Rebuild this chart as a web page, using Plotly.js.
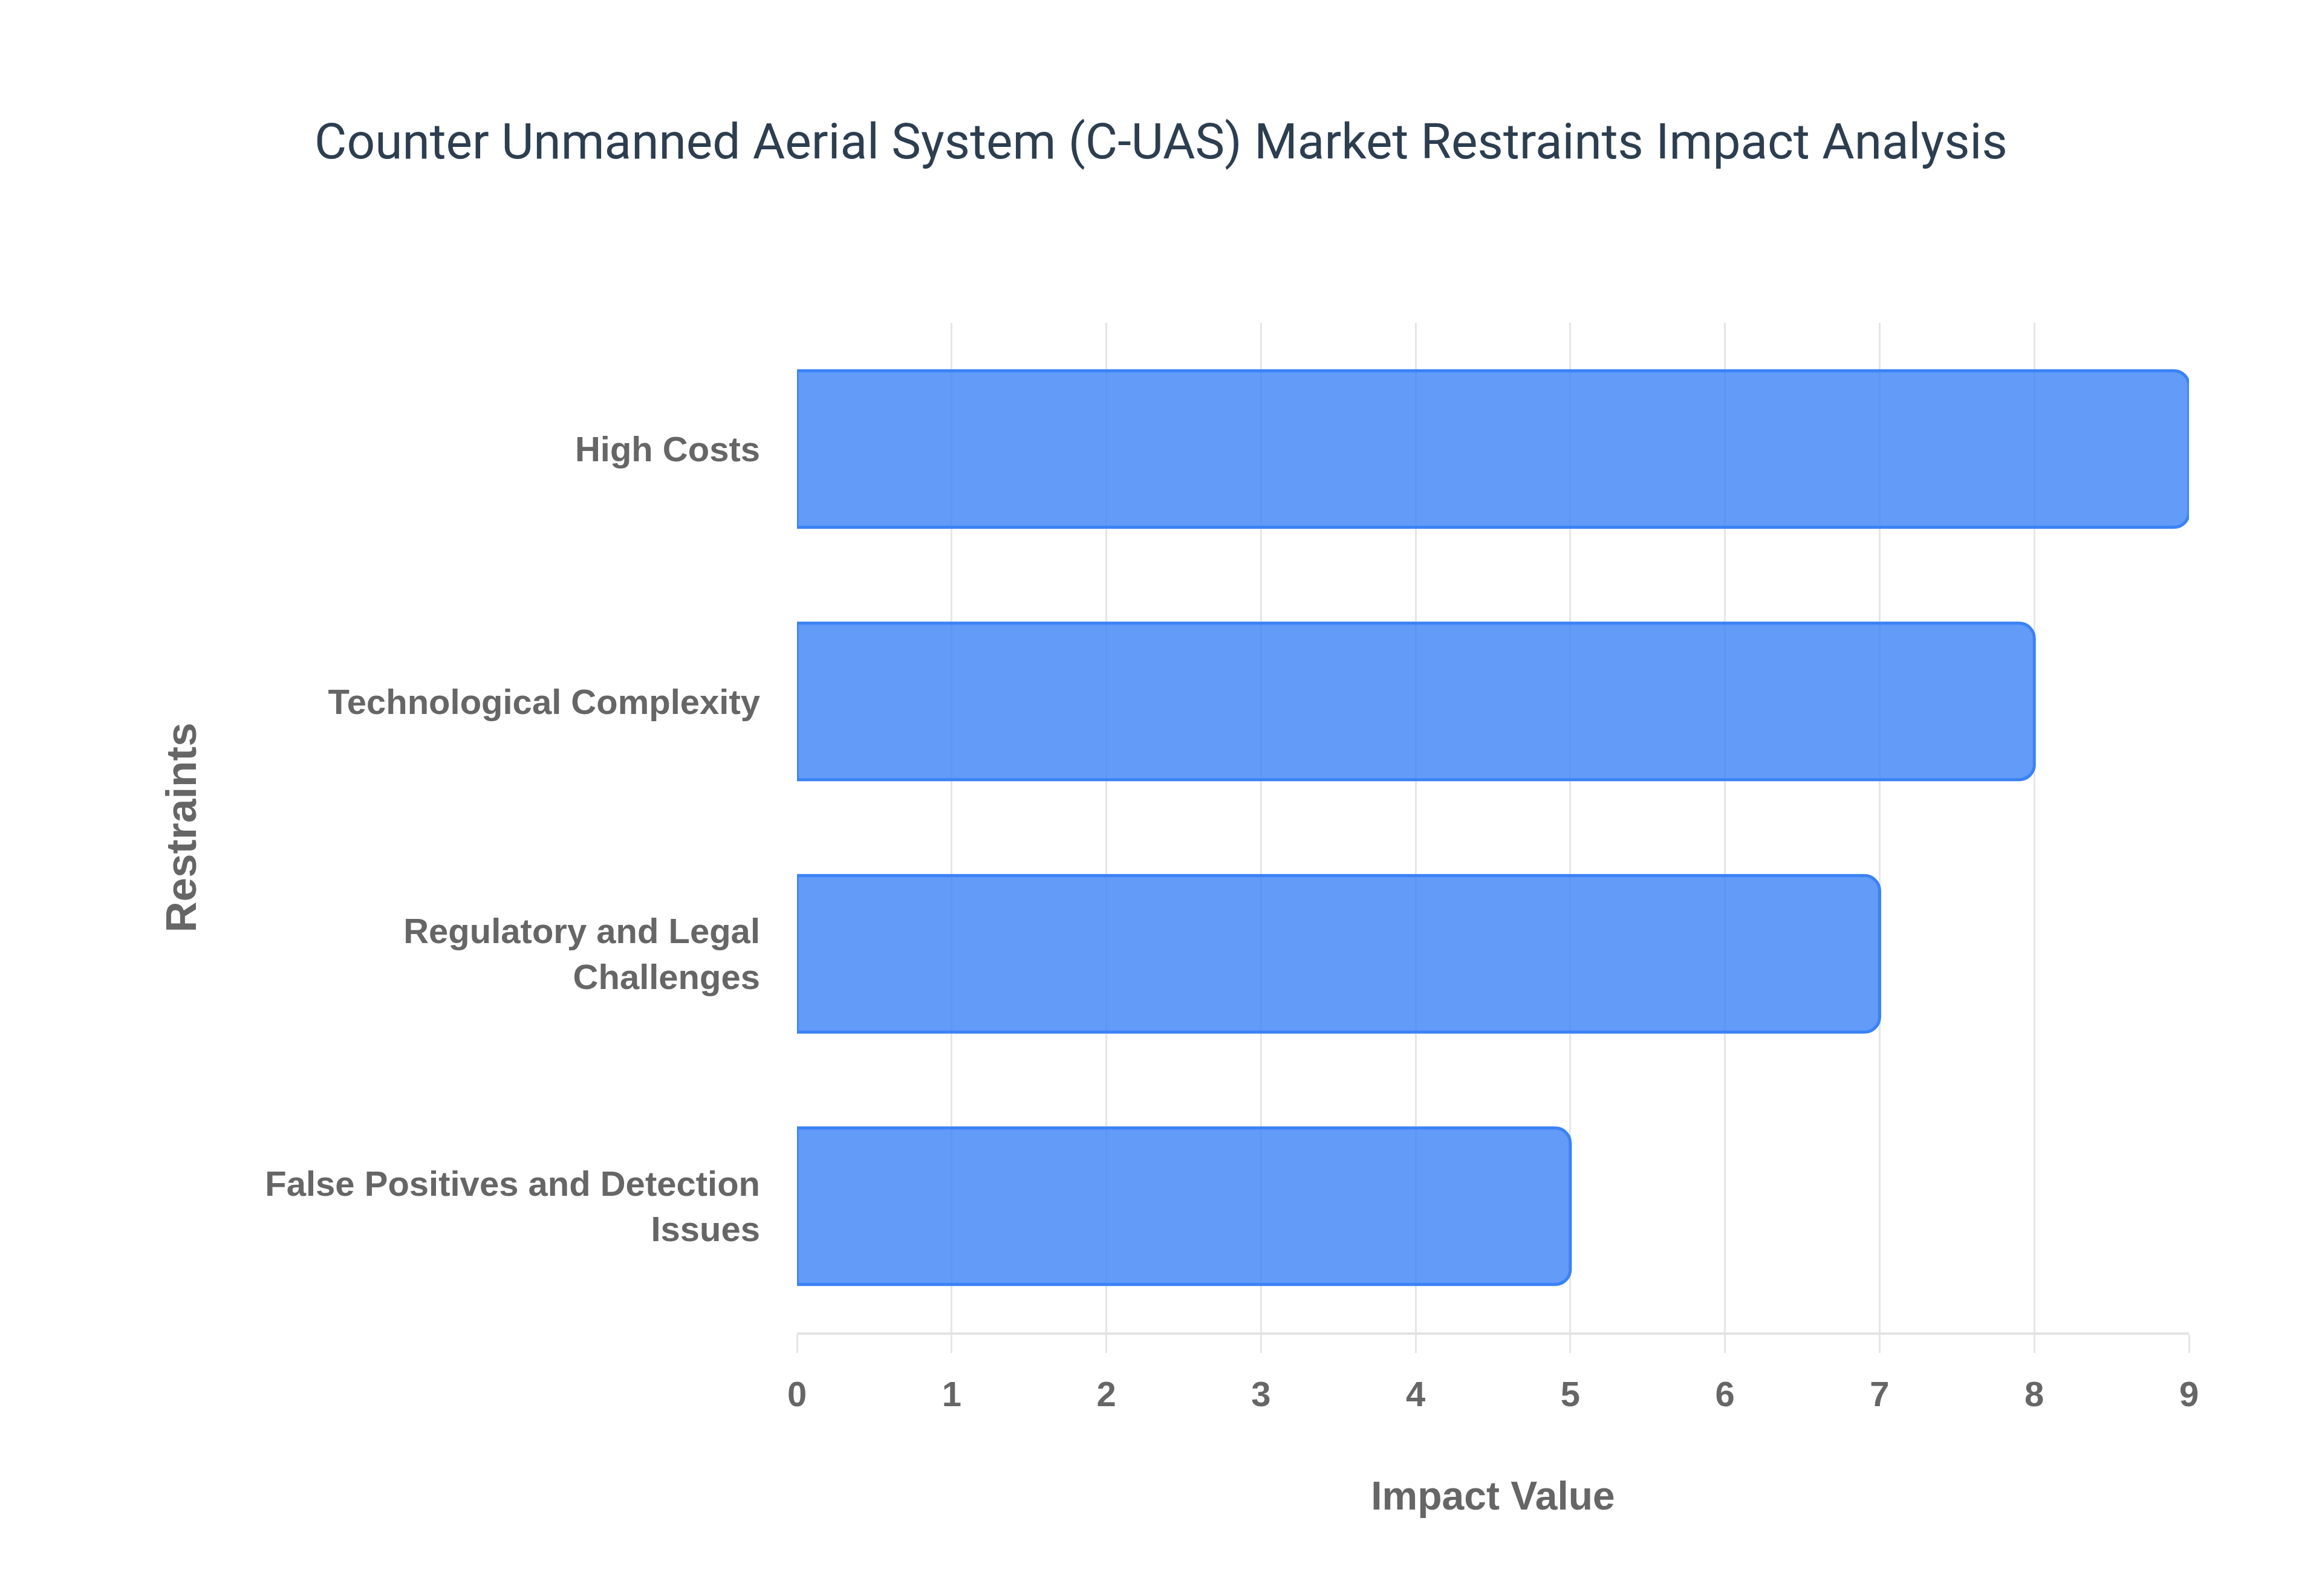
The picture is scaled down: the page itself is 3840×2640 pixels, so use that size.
<!DOCTYPE html>
<html>
<head>
<meta charset="utf-8">
<script src="https://cdn.plot.ly/plotly-3.0.1.min.js"></script>
<style>
  html, body { margin: 0; padding: 0; background: #fff; }
  #chart { width: 3840px; height: 2640px; }
</style>
</head>
<body>
<div id="chart"></div>
<script>
// Restraints and their impact values (top to bottom)
const restraints = [
  'High Costs',
  'Technological Complexity',
  'Regulatory and Legal<br>Challenges',
  'False Positives and Detection<br>Issues'
];
const impactValues = [9, 8, 7, 5];
const xTicks = [0, 1, 2, 3, 4, 5, 6, 7, 8, 9];

const labelFont = { family: 'Liberation Sans, Arial, sans-serif', size: 58, color: '#666666', weight: 'bold' };
const xTitleFont = { family: 'Liberation Sans, Arial, sans-serif', size: 66, color: '#666666', weight: 'bold' };
const yTitleFont = { family: 'Liberation Sans, Arial, sans-serif', size: 71, color: '#666666', weight: 'bold' };

Plotly.newPlot('chart', [{
  type: 'bar',
  orientation: 'h',
  x: impactValues,
  y: restraints,
  cliponaxis: false,
  hoverinfo: 'x+y',
  marker: {
    color: 'rgba(59,130,246,0.8)',
    line: { color: '#3b82f6', width: 5 },
    cornerradius: 25
  }
}], {
  width: 3840,
  height: 2640,
  margin: { l: 1318, r: 220, t: 534, b: 436, pad: 0 },
  paper_bgcolor: '#ffffff',
  plot_bgcolor: '#ffffff',
  bargap: 0.38,
  showlegend: false,
  title: {
    text: 'Counter Unmanned Aerial System (C-UAS) Market Restraints Impact Analysis',
    font: { family: 'Roboto, sans-serif', size: 82, color: '#2c3e50' },
    x: 0.5,
    xanchor: 'center',
    y: 1 - 233 / 2640,
    yanchor: 'middle'
  },
  xaxis: {
    range: [0, 9],
    tickvals: xTicks,
    showgrid: true,
    gridcolor: '#e6e6e6',
    gridwidth: 3,
    zeroline: false,
    showline: true,
    linecolor: '#e3e3e3',
    linewidth: 4,
    ticks: 'outside',
    ticklen: 30,
    tickwidth: 3,
    tickcolor: '#e6e6e6',
    ticklabelstandoff: 18,
    tickfont: labelFont,
    title: { text: 'Impact Value', font: xTitleFont, standoff: 115 }
  },
  yaxis: {
    range: [3.5, -0.5],
    showgrid: false,
    zeroline: false,
    showline: false,
    ticks: '',
    ticklabelstandoff: 60,
    tickfont: labelFont,
    title: { text: 'Restraints', font: yTitleFont, standoff: 90 }
  }
}, { displayModeBar: false });
</script>
</body>
</html>
